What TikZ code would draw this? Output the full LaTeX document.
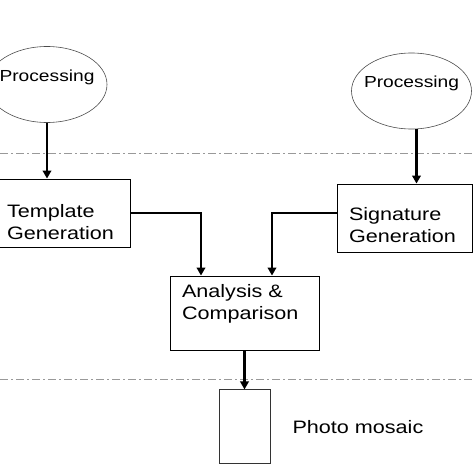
\documentclass[tikz,border=0pt]{standalone}
\usepackage{fontspec}
\setmainfont{Liberation Sans}[FakeStretch=1.2]
\usetikzlibrary{shapes.geometric, arrows.meta, positioning}
\tikzstyle{proc} = [
    ellipse,
    draw=black!70,
    line width=0.6pt,
    minimum width=120pt,
    minimum height=76pt,
    inner xsep=-8pt,
    inner ysep=0pt,
    font=\fontsize{16}{20}\selectfont
]
\tikzstyle{stage} = [
    rectangle,
    draw=black,
    line width=0.9pt,
    text width=111pt,
    inner xsep=12pt,
    inner ysep=0pt,
    align=left,
    font=\fontsize{18}{22}\selectfont
]
\tikzstyle{tile} = [
    rectangle,
    draw=black!80,
    line width=0.6pt,
    minimum width=51pt,
    minimum height=74pt
]
\tikzstyle{arrow} = [
    line width=2.6pt,
    -{Triangle[length=8pt,width=8.5pt]}
]
\tikzstyle{layer} = [
    draw=black!40,
    line width=0.8pt,
    dash pattern=on 8pt off 3pt on 2pt off 3pt
]

\begin{document}
\begin{tikzpicture}[x=1pt, y=-1pt]

\useasboundingbox (0,0) rectangle (474,474);

\node (lproc) [proc] at (47,84.5) {Processing\rule[-18pt]{0pt}{18pt}};
\node (rproc) [proc] at (411.5,91) {Processing\rule[-18pt]{0pt}{18pt}};

\node (tmpl) [stage] at (62.5,213) {\rule{0pt}{38pt}Template\\Generation\rule[-8pt]{0pt}{8pt}};
\node (sig)  [stage] at (404.5,218) {\rule{0pt}{36pt}Signature\\Generation\rule[-10pt]{0pt}{10pt}};
\node (anal) [stage, text width=125pt] at (244.5,313) {\rule{0pt}{21pt}Analysis \&\\Comparison\rule[-31pt]{0pt}{31pt}};

\node (photo)  [tile, below=39pt of anal] {};
\node (mosaic) [right=22pt of photo, inner sep=0pt, font=\fontsize{18}{22}\selectfont] {Photo mosaic};

% layer separators
\draw[layer] (0,153) -- (474,153);
\draw[layer] (0,379) -- (474,379);

\draw[arrow] (lproc.south) -- (lproc.south |- tmpl.north);
\draw[arrow] ([xshift=5pt]rproc.south) -- ([xshift=5pt]rproc.south |- sig.north);
\draw[arrow] (tmpl.east) -| ([xshift=-43.5pt]anal.north);
\draw[arrow] ([yshift=5pt]sig.west) -| ([xshift=27.5pt]anal.north);
\draw[arrow] (anal.south) -- (photo.north);

\end{tikzpicture}
\end{document}
